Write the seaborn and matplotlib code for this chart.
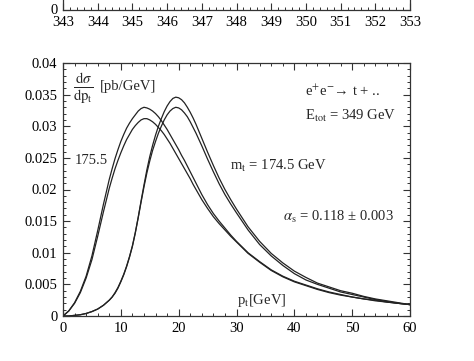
"""Top-quark transverse momentum distribution near threshold."""

import matplotlib
matplotlib.use("Agg")

import matplotlib.pyplot as plt
import pandas as pd
import seaborn as sns
from matplotlib.ticker import MultipleLocator
from matplotlib.transforms import ScaledTranslation


# p_t grid [GeV] shared by the four curves
pt = [0, 1, 2, 3, 4, 5, 6, 7,
      8, 8.5, 9, 9.5, 10, 10.5, 11, 11.5, 12, 12.5, 13, 13.5, 14, 14.5, 15,
      15.5, 16, 16.5, 17, 17.5, 18, 18.5, 19, 19.5, 20, 20.5, 21, 21.5, 22,
      22.5, 23, 23.5, 24,
      25, 26, 27, 28, 29, 30,
      32, 34, 36, 38, 40, 42, 44, 46, 48, 50, 52, 54, 56, 58, 60]

# m_t = 175.5 GeV, alpha_s band
heavy_hi = [0, 0.0008, 0.0021, 0.0039, 0.0063, 0.0095, 0.0135, 0.0177,
            0.0216, 0.0233, 0.0249, 0.0263, 0.0276, 0.0287, 0.0297, 0.0305,
            0.0312, 0.0318, 0.0324, 0.0328, 0.0330, 0.0329, 0.0327, 0.0324,
            0.0320, 0.0315, 0.0309, 0.0302, 0.0295, 0.0287, 0.0279, 0.0271,
            0.0263, 0.0254, 0.0246, 0.0237, 0.0228, 0.0219, 0.0210, 0.0201,
            0.0192,
            0.0176, 0.0162, 0.0150, 0.0139, 0.0128, 0.0118,
            0.0100, 0.0086, 0.0073, 0.0063, 0.0055, 0.0049, 0.0043, 0.0038,
            0.0034, 0.0030, 0.0027, 0.0025, 0.0022, 0.0020, 0.0018]
heavy_lo = [0, 0.0008, 0.0020, 0.0037, 0.0060, 0.0089, 0.0126, 0.0165,
            0.0202, 0.0218, 0.0233, 0.0246, 0.0258, 0.0269, 0.0279, 0.0287,
            0.0295, 0.0301, 0.0306, 0.0310, 0.0312, 0.0312, 0.0310, 0.0307,
            0.0303, 0.0298, 0.0293, 0.0287, 0.0280, 0.0273, 0.0265, 0.0257,
            0.0249, 0.0241, 0.0233, 0.0225, 0.0217, 0.0208, 0.0200, 0.0192,
            0.0184,
            0.0170, 0.0157, 0.0146, 0.0136, 0.0126, 0.0117,
            0.0099, 0.0085, 0.0072, 0.0062, 0.0054, 0.0048, 0.0042, 0.0037,
            0.0033, 0.0030, 0.0027, 0.0024, 0.0022, 0.0020, 0.0018]

# m_t = 174.5 GeV, alpha_s band
light_hi = [0, 0.0000, 0.0001, 0.0002, 0.0004, 0.0007, 0.0011, 0.0017,
            0.0025, 0.0030, 0.0037, 0.0045, 0.0055, 0.0066, 0.0079, 0.0094,
            0.0111, 0.0132, 0.0156, 0.0182, 0.0207, 0.0231, 0.0252, 0.0270,
            0.0286, 0.0300, 0.0312, 0.0323, 0.0332, 0.0339, 0.0344, 0.0346,
            0.0345, 0.0342, 0.0337, 0.0330, 0.0322, 0.0313, 0.0303, 0.0292,
            0.0281,
            0.0259, 0.0238, 0.0218, 0.0200, 0.0184, 0.0169,
            0.0141, 0.0118, 0.0099, 0.0084, 0.0071, 0.0061, 0.0052, 0.0046,
            0.0040, 0.0036, 0.0031, 0.0027, 0.0024, 0.0021, 0.0018]
light_lo = [0, 0.0000, 0.0001, 0.0002, 0.0004, 0.0007, 0.0011, 0.0017,
            0.0025, 0.0030, 0.0036, 0.0044, 0.0054, 0.0065, 0.0078, 0.0093,
            0.0110, 0.0131, 0.0155, 0.0180, 0.0204, 0.0226, 0.0245, 0.0262,
            0.0276, 0.0289, 0.0300, 0.0310, 0.0318, 0.0324, 0.0328, 0.0330,
            0.0329, 0.0326, 0.0321, 0.0315, 0.0307, 0.0298, 0.0289, 0.0279,
            0.0269,
            0.0248, 0.0228, 0.0209, 0.0192, 0.0177, 0.0163,
            0.0136, 0.0113, 0.0095, 0.0080, 0.0067, 0.0057, 0.0050, 0.0044,
            0.0038, 0.0034, 0.0030, 0.0026, 0.0023, 0.0020, 0.0018]

y_ticks = [0, 0.005, 0.01, 0.015, 0.02, 0.025, 0.03, 0.035, 0.04]
y_tick_labels = ["0", "0.005", "0.01", "0.015", "0.02", "0.025", "0.03",
                 "0.035", "0.04"]
x_ticks = [0, 10, 20, 30, 40, 50, 60]
top_x_ticks = [343, 344, 345, 346, 347, 348, 349, 350, 351, 352, 353]

sns.set_style("ticks")
plt.rcParams["font.family"] = ["Liberation Serif", "DejaVu Serif"]
plt.rcParams["mathtext.fontset"] = "stix"
plt.rcParams["axes.linewidth"] = 0.9
plt.rcParams["axes.edgecolor"] = "#333333"

INK = "#222222"


def style_ticks(ax):
    ax.tick_params(which="both", direction="in", top=True, right=True,
                   colors="#333333", labelcolor="black", labelsize=10.5,
                   pad=4)
    ax.tick_params(which="major", length=5, width=0.8)
    ax.tick_params(which="minor", length=2.5, width=0.7)


fig = plt.figure(figsize=(4.74, 3.61), dpi=100)

# remnant of the panel above: only its bottom edge is inside the picture
ax_top = fig.add_axes([63 / 474, 1 - 10 / 361, 347 / 474, 0.5])
ax_top.set_xlim(343, 353)
ax_top.set_ylim(0, 1)
ax_top.set_xticks(top_x_ticks)
ax_top.xaxis.set_minor_locator(MultipleLocator(0.2))
ax_top.set_yticks([0])
ax_top.set_yticklabels(["0"])
style_ticks(ax_top)
for label in ax_top.get_yticklabels():
    label.set_transform(label.get_transform()
                        + ScaledTranslation(0, 1 / 72, fig.dpi_scale_trans))

ax = fig.add_axes([63 / 474, 45 / 361, 347 / 474, 253 / 361])
curves = {"175.5 hi": heavy_hi, "175.5 lo": heavy_lo,
          "174.5 hi": light_hi, "174.5 lo": light_lo}
for name, values in curves.items():
    frame = pd.DataFrame({"pt": pt, "dsigma": values})
    sns.lineplot(data=frame, x="pt", y="dsigma", ax=ax, color=INK, lw=0.9,
                 estimator=None, legend=False)

ax.set_xlim(0, 60)
ax.set_ylim(0, 0.04)
ax.set_xticks(x_ticks)
ax.set_yticks(y_ticks)
ax.set_yticklabels(y_tick_labels)
ax.xaxis.set_minor_locator(MultipleLocator(2))
ax.yaxis.set_minor_locator(MultipleLocator(0.001))
ax.set_xlabel("")
ax.set_ylabel("")
style_ticks(ax)

ax.text(1.7, 0.0360,
        r"$\frac{\mathrm{d}\sigma}{\mathrm{dp}_\mathrm{t}}$",
        fontsize=15, ha="left", va="center")
ax.text(6.4, 0.0363, "[pb/GeV]", fontsize=10.5, ha="left", va="center")
ax.text(2.1, 0.0246, "175.5", fontsize=10.5, ha="left", va="center")
ax.text(28.8, 0.0237, r"m$_{\rm t}$ = 174.5 GeV", fontsize=10.5,
        ha="left", va="center")
ax.text(41.9, 0.0355, r"e$^{+}$e$^{-}$→ t + ..", fontsize=10.5,
        ha="left", va="center")
ax.text(41.9, 0.0317, r"E$_{\rm tot}$ = 349 GeV", fontsize=10.5,
        ha="left", va="center")
ax.text(38.0, 0.0157, r"$\alpha_{\rm s}$ = 0.118 ± 0.003", fontsize=10.5,
        ha="left", va="center")
ax.text(30.0, 0.0025, r"p$_{\rm t}$[GeV]", fontsize=10.5,
        ha="left", va="center")

fig.savefig("out.png", dpi=100)
plt.close(fig)
